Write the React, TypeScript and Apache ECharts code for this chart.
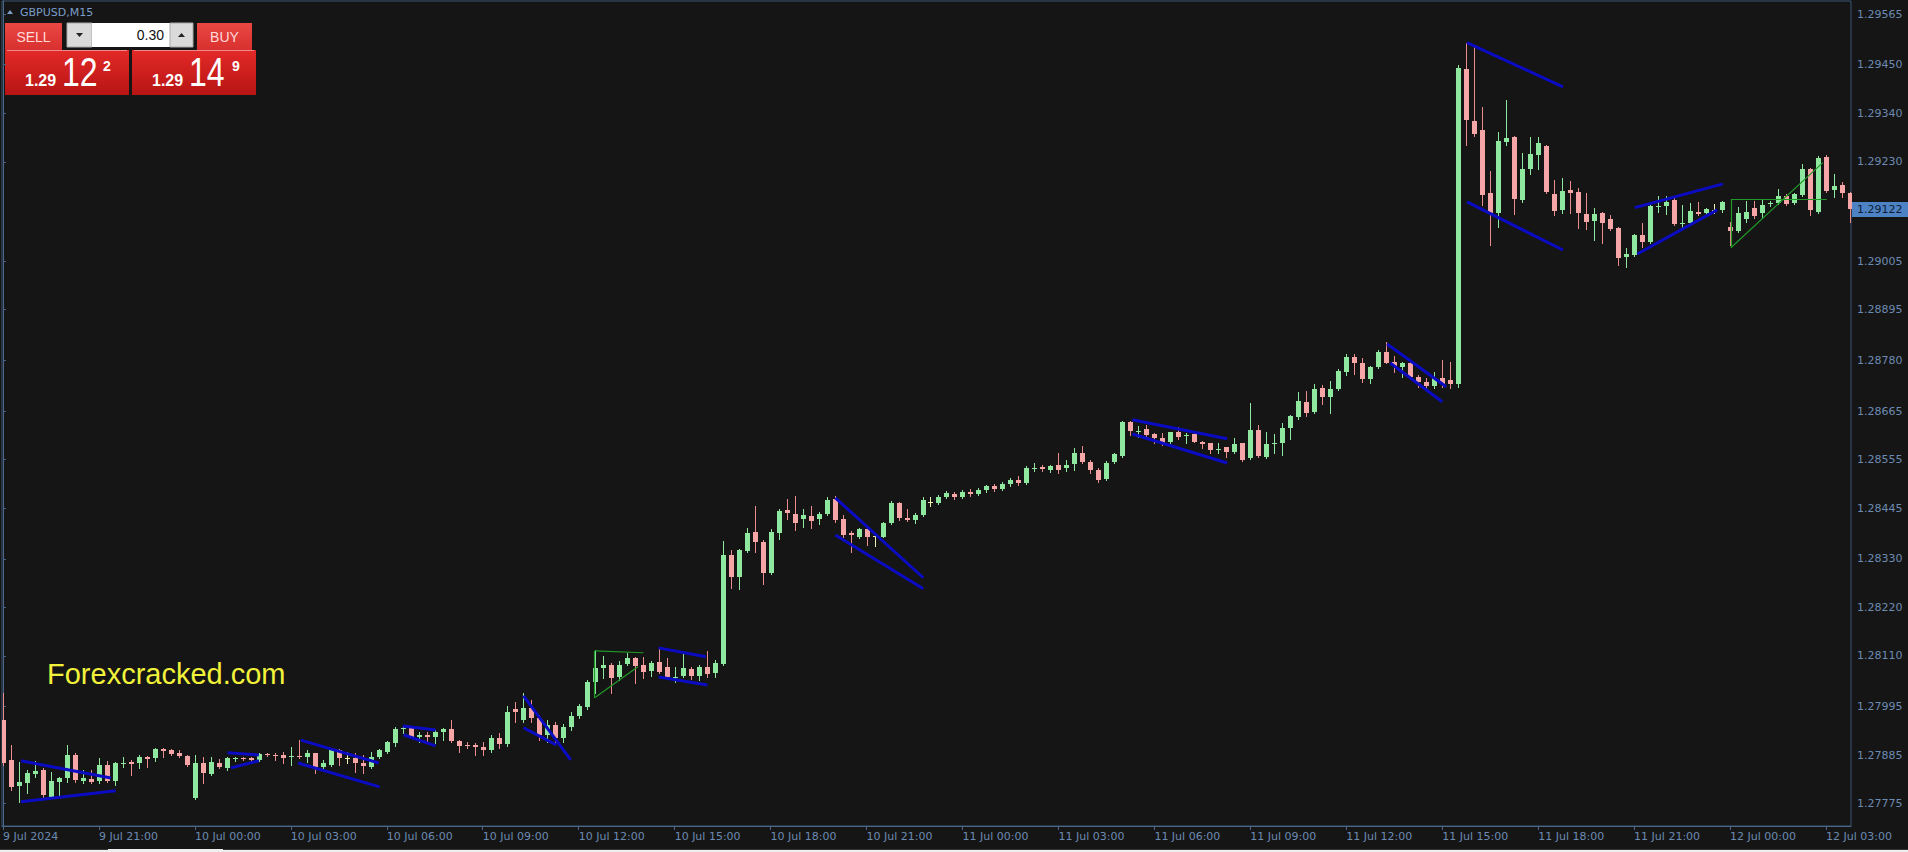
import React, { useEffect, useRef } from "react";
import * as echarts from "echarts";

const TIME_TICKS = [0, 12, 24, 36, 48, 60, 72, 84, 96, 108, 120, 132, 144, 156, 168, 180, 192, 204, 216, 228];
const TIME_LABELS = [
  "9 Jul 2024", "9 Jul 21:00", "10 Jul 00:00", "10 Jul 03:00", "10 Jul 06:00", "10 Jul 09:00",
  "10 Jul 12:00", "10 Jul 15:00", "10 Jul 18:00", "10 Jul 21:00", "11 Jul 00:00", "11 Jul 03:00",
  "11 Jul 06:00", "11 Jul 09:00", "11 Jul 12:00", "11 Jul 15:00", "11 Jul 18:00", "11 Jul 21:00",
  "12 Jul 00:00", "12 Jul 03:00",
];
const PRICE_TICKS = [
  1.29565, 1.2945, 1.2934, 1.2923, 1.29005, 1.28895, 1.2878, 1.28665, 1.28555, 1.28445, 1.2833,
  1.2822, 1.2811, 1.27995, 1.27885, 1.27775,
];
const CURRENT_PRICE = 1.29122;

// [open, high, low, close] per M15 bar
const OHLC: number[][] = [
  [1.27965, 1.28026, 1.27863, 1.27867], [1.27874, 1.27908, 1.27806, 1.27813], [1.27815, 1.2787, 1.27779, 1.27824],
  [1.27822, 1.27851, 1.27799, 1.27845], [1.27842, 1.27872, 1.27836, 1.27849], [1.27851, 1.27856, 1.27786, 1.27795],
  [1.2779, 1.27847, 1.27788, 1.27827], [1.27824, 1.27836, 1.27795, 1.27833], [1.27833, 1.27908, 1.27824, 1.27885],
  [1.27885, 1.2789, 1.27824, 1.27829], [1.27827, 1.27851, 1.27822, 1.27833], [1.27831, 1.27851, 1.27822, 1.27824],
  [1.27827, 1.27879, 1.27822, 1.27863], [1.27863, 1.27872, 1.27824, 1.27827], [1.27827, 1.2787, 1.27817, 1.27867],
  [1.27865, 1.27881, 1.27858, 1.27867], [1.2787, 1.27874, 1.2784, 1.27865], [1.27867, 1.27885, 1.27856, 1.27881],
  [1.27881, 1.27883, 1.27858, 1.27876], [1.27879, 1.27901, 1.27872, 1.27899], [1.27899, 1.27901, 1.27881, 1.27894],
  [1.27897, 1.27899, 1.27885, 1.27888], [1.2789, 1.27897, 1.27881, 1.27883], [1.27883, 1.27885, 1.2786, 1.27863],
  [1.27788, 1.27885, 1.27786, 1.27867], [1.27867, 1.27881, 1.27822, 1.27845], [1.27842, 1.27881, 1.2784, 1.2787],
  [1.27867, 1.27876, 1.27856, 1.27858], [1.27856, 1.27881, 1.27851, 1.27879], [1.27876, 1.27881, 1.27872, 1.27879],
  [1.27879, 1.27881, 1.27874, 1.27876], [1.27879, 1.27881, 1.27872, 1.27874], [1.27874, 1.2789, 1.27872, 1.27888],
  [1.27888, 1.2789, 1.27883, 1.27885], [1.27885, 1.2789, 1.27874, 1.27883], [1.27885, 1.27892, 1.27867, 1.27879],
  [1.27881, 1.27904, 1.27863, 1.27883], [1.27883, 1.27919, 1.27879, 1.27881], [1.27881, 1.27897, 1.2787, 1.2789],
  [1.2789, 1.2789, 1.27845, 1.27858], [1.27858, 1.27874, 1.27856, 1.27867], [1.27863, 1.27899, 1.2786, 1.27897],
  [1.27897, 1.27899, 1.27863, 1.27879], [1.27879, 1.27892, 1.27867, 1.27879], [1.27879, 1.2789, 1.27847, 1.27867],
  [1.27867, 1.27885, 1.27845, 1.2786], [1.27858, 1.27892, 1.27856, 1.27881], [1.27881, 1.27899, 1.27879, 1.27897],
  [1.27892, 1.27917, 1.2789, 1.27915], [1.27913, 1.27949, 1.27906, 1.27944], [1.27944, 1.27953, 1.27935, 1.27947],
  [1.27947, 1.27949, 1.27924, 1.27926], [1.27926, 1.27938, 1.27915, 1.27931], [1.27931, 1.27938, 1.27913, 1.27926],
  [1.27926, 1.27942, 1.27913, 1.27938], [1.27938, 1.27947, 1.27919, 1.27944], [1.27944, 1.27965, 1.27915, 1.27917],
  [1.27917, 1.27919, 1.27892, 1.27906], [1.27908, 1.27915, 1.27901, 1.27906], [1.27908, 1.27913, 1.27885, 1.27904],
  [1.27904, 1.27915, 1.27885, 1.27897], [1.27897, 1.27931, 1.27892, 1.27924], [1.27924, 1.27935, 1.27901, 1.2791],
  [1.2791, 1.27996, 1.27906, 1.27983], [1.2799, 1.28006, 1.2796, 1.27983], [1.27965, 1.28026, 1.2796, 1.27992],
  [1.27992, 1.2801, 1.2796, 1.27969], [1.27969, 1.27976, 1.27919, 1.27931], [1.27931, 1.27965, 1.27915, 1.27953],
  [1.27953, 1.2796, 1.27908, 1.27924], [1.27924, 1.27956, 1.27915, 1.27949], [1.27949, 1.27983, 1.27942, 1.27974],
  [1.27974, 1.28001, 1.27969, 1.27996], [1.27994, 1.28055, 1.2799, 1.28051], [1.28051, 1.28123, 1.28026, 1.28083],
  [1.28083, 1.2811, 1.2806, 1.28089], [1.28089, 1.28094, 1.28026, 1.2806], [1.28062, 1.28099, 1.28055, 1.28089],
  [1.28092, 1.28117, 1.28089, 1.28105], [1.28105, 1.28108, 1.28049, 1.28087], [1.28089, 1.28108, 1.2806, 1.28074],
  [1.28076, 1.28099, 1.28064, 1.28094], [1.28096, 1.28128, 1.28071, 1.28074], [1.28085, 1.28105, 1.2806, 1.28062],
  [1.2806, 1.28085, 1.28051, 1.28062], [1.28064, 1.28119, 1.28062, 1.28083], [1.2808, 1.28085, 1.28058, 1.28064],
  [1.28064, 1.28089, 1.28055, 1.28085], [1.28085, 1.28121, 1.28062, 1.28069], [1.28071, 1.28101, 1.28062, 1.28094],
  [1.28092, 1.28371, 1.28089, 1.28339], [1.28339, 1.2835, 1.28264, 1.28289], [1.28289, 1.28352, 1.28262, 1.2835],
  [1.28348, 1.284, 1.28346, 1.28389], [1.28391, 1.2845, 1.28346, 1.28368], [1.28368, 1.28373, 1.28273, 1.28298],
  [1.28298, 1.28398, 1.28296, 1.28391], [1.28389, 1.28443, 1.28375, 1.28439], [1.28441, 1.28466, 1.2842, 1.28434],
  [1.28432, 1.28473, 1.28396, 1.28411], [1.2842, 1.28443, 1.28402, 1.2843], [1.28427, 1.2845, 1.284, 1.28416],
  [1.2842, 1.28436, 1.28409, 1.28432], [1.28432, 1.2847, 1.2843, 1.28464], [1.28466, 1.28473, 1.28414, 1.28418],
  [1.2842, 1.2843, 1.2838, 1.28384], [1.28389, 1.28393, 1.28346, 1.28384], [1.2838, 1.284, 1.28377, 1.28398],
  [1.28398, 1.28402, 1.28362, 1.2838], [1.28382, 1.28389, 1.28359, 1.28382], [1.2838, 1.28414, 1.2838, 1.28411],
  [1.28411, 1.28461, 1.28409, 1.28457], [1.28457, 1.28459, 1.28418, 1.28423], [1.28423, 1.28443, 1.28416, 1.28418],
  [1.28418, 1.28434, 1.28411, 1.2843], [1.2843, 1.2847, 1.28427, 1.28464], [1.28459, 1.2847, 1.2845, 1.28459],
  [1.28457, 1.28475, 1.28454, 1.2847], [1.2847, 1.28484, 1.28468, 1.28479], [1.28477, 1.28482, 1.28466, 1.2847],
  [1.2847, 1.28486, 1.28468, 1.28482], [1.28482, 1.28488, 1.28473, 1.28477], [1.28477, 1.28491, 1.28475, 1.28486],
  [1.28486, 1.28497, 1.28482, 1.28495], [1.28495, 1.285, 1.28484, 1.28488], [1.28488, 1.28504, 1.28486, 1.285],
  [1.285, 1.28513, 1.28495, 1.28509], [1.28509, 1.28518, 1.28497, 1.28502], [1.28502, 1.28541, 1.285, 1.28536],
  [1.28534, 1.28547, 1.28529, 1.28536], [1.28538, 1.28543, 1.28529, 1.28534], [1.28532, 1.28543, 1.28527, 1.28541],
  [1.28543, 1.2857, 1.28525, 1.28532], [1.28536, 1.28554, 1.28529, 1.28543], [1.28545, 1.28581, 1.28532, 1.2857],
  [1.2857, 1.28586, 1.28547, 1.2855], [1.2855, 1.28554, 1.28525, 1.28532], [1.28532, 1.28536, 1.28504, 1.28509],
  [1.28511, 1.28552, 1.28509, 1.28547], [1.2855, 1.2857, 1.28547, 1.28568], [1.28563, 1.28643, 1.28561, 1.2864],
  [1.2864, 1.28643, 1.28611, 1.2862], [1.28618, 1.28631, 1.28606, 1.2862], [1.28625, 1.28634, 1.28606, 1.28611],
  [1.28613, 1.28615, 1.28593, 1.28604], [1.28604, 1.28615, 1.28588, 1.28593], [1.28595, 1.28618, 1.28593, 1.28618],
  [1.28618, 1.28629, 1.28602, 1.28606], [1.28609, 1.28615, 1.28593, 1.28611], [1.28613, 1.28615, 1.28595, 1.28595],
  [1.28595, 1.28597, 1.28581, 1.2859], [1.28593, 1.28593, 1.2857, 1.28577], [1.28577, 1.28593, 1.2857, 1.28579],
  [1.28584, 1.28584, 1.28561, 1.28572], [1.28572, 1.28604, 1.2857, 1.2859], [1.28593, 1.28593, 1.28552, 1.28554],
  [1.28559, 1.28683, 1.28556, 1.28622], [1.28622, 1.28634, 1.28561, 1.28563], [1.28561, 1.28618, 1.28559, 1.2859],
  [1.28591, 1.28613, 1.2857, 1.28593], [1.28593, 1.28638, 1.28566, 1.28627], [1.28627, 1.28656, 1.28602, 1.28654],
  [1.28652, 1.28708, 1.28647, 1.28688], [1.28686, 1.28711, 1.28654, 1.28661], [1.28663, 1.28727, 1.28661, 1.28715],
  [1.28717, 1.28724, 1.28681, 1.28697], [1.28697, 1.28733, 1.28661, 1.28715], [1.28715, 1.2876, 1.28713, 1.28756],
  [1.28754, 1.28795, 1.28747, 1.28788], [1.28788, 1.28795, 1.28749, 1.28774], [1.28774, 1.28785, 1.28731, 1.28738],
  [1.28738, 1.28767, 1.28729, 1.28765], [1.28765, 1.28804, 1.28763, 1.28799], [1.28799, 1.28822, 1.28774, 1.28774],
  [1.28776, 1.2879, 1.28754, 1.28767], [1.28765, 1.28776, 1.28742, 1.28774], [1.28774, 1.28776, 1.28742, 1.28742],
  [1.28742, 1.28747, 1.2872, 1.28731], [1.28731, 1.2874, 1.28713, 1.28722], [1.28722, 1.28754, 1.28717, 1.2874],
  [1.2874, 1.28781, 1.2872, 1.28727], [1.28736, 1.28776, 1.28717, 1.28727], [1.28727, 1.2945, 1.2872, 1.29443],
  [1.29441, 1.295, 1.29268, 1.29325], [1.29323, 1.29495, 1.29289, 1.29293], [1.29302, 1.29354, 1.29132, 1.29155],
  [1.2916, 1.29209, 1.29042, 1.29114], [1.29114, 1.29298, 1.29082, 1.29277], [1.29275, 1.2937, 1.29268, 1.29284],
  [1.29286, 1.29289, 1.29112, 1.29146], [1.29144, 1.2925, 1.29139, 1.29214], [1.29214, 1.29286, 1.29203, 1.29248],
  [1.29246, 1.29286, 1.29214, 1.29273], [1.29266, 1.29268, 1.2916, 1.29162], [1.29157, 1.29189, 1.2911, 1.29119],
  [1.29121, 1.29194, 1.29114, 1.29164], [1.29166, 1.29187, 1.29114, 1.2916], [1.29162, 1.29171, 1.2908, 1.29114],
  [1.29112, 1.2916, 1.29078, 1.29094], [1.29096, 1.29126, 1.29053, 1.29112], [1.29114, 1.29116, 1.29046, 1.29091],
  [1.291, 1.2911, 1.29076, 1.29078], [1.2908, 1.29082, 1.28996, 1.29012], [1.29014, 1.29035, 1.28992, 1.29021],
  [1.29019, 1.29067, 1.29017, 1.29064], [1.29064, 1.29091, 1.29037, 1.29048], [1.29048, 1.29135, 1.29046, 1.2913],
  [1.29128, 1.29153, 1.29116, 1.2913], [1.2913, 1.29153, 1.29112, 1.29139], [1.29144, 1.29148, 1.29087, 1.29089],
  [1.29089, 1.29132, 1.29082, 1.29091], [1.29091, 1.29137, 1.29089, 1.29119], [1.29116, 1.29139, 1.2911, 1.29112],
  [1.29114, 1.29126, 1.29112, 1.29123], [1.29121, 1.29135, 1.29114, 1.29121], [1.29121, 1.29141, 1.29116, 1.29139],
  [1.29082, 1.29094, 1.29042, 1.29073], [1.29073, 1.29128, 1.29071, 1.29114], [1.291, 1.29141, 1.29094, 1.29116],
  [1.29126, 1.29141, 1.29103, 1.29107], [1.29114, 1.29144, 1.29103, 1.29132], [1.29135, 1.29141, 1.2913, 1.29137],
  [1.29137, 1.29169, 1.29135, 1.29153], [1.29153, 1.29157, 1.29132, 1.29135], [1.29137, 1.2916, 1.29135, 1.29157],
  [1.29155, 1.29225, 1.29153, 1.29214], [1.29214, 1.29216, 1.2911, 1.29121], [1.29116, 1.29243, 1.29114, 1.29239],
  [1.29241, 1.29246, 1.29162, 1.29164], [1.29166, 1.29203, 1.2915, 1.29175], [1.29178, 1.29184, 1.2915, 1.2916],
  [1.2916, 1.29162, 1.29094, 1.29122],
];

// trend lines: [barFrom, priceFrom, barTo, priceTo]
const BLUE_LINES: number[][] = [
  [2.25, 1.27872, 13.5, 1.27833], [2.25, 1.27779, 14.1, 1.27804],
  [28.1, 1.2789, 32, 1.27885], [28.5, 1.27856, 32, 1.27872],
  [37.25, 1.27919, 47, 1.27867], [36.9, 1.27867, 47.1, 1.27813],
  [50, 1.27951, 54.1, 1.27942], [50.1, 1.27931, 54.1, 1.27906],
  [65.1, 1.28019, 71, 1.27874], [65.1, 1.27947, 69.2, 1.27908],
  [82, 1.28128, 87.9, 1.28108], [82, 1.28062, 88.1, 1.28044],
  [104.1, 1.28468, 115.1, 1.28287], [104.1, 1.28384, 115.1, 1.28262],
  [141.25, 1.28645, 153.1, 1.28602], [141.25, 1.28613, 153.1, 1.28547],
  [173.1, 1.28817, 180.5, 1.2872], [173.5, 1.28774, 180, 1.28686],
  [183.1, 1.295, 195.1, 1.294], [183.1, 1.29139, 195.1, 1.2903],
  [204.1, 1.29126, 215.1, 1.2918], [204.4, 1.29021, 214.4, 1.29121],
];
const GREEN_LINES: number[][] = [
  [74, 1.28121, 80.1, 1.28117], [74, 1.28121, 74, 1.28015], [74, 1.28015, 79.4, 1.28085],
  [216.1, 1.29144, 228.1, 1.29144], [216.1, 1.29144, 216.1, 1.29035], [216.1, 1.29035, 227.6, 1.29228],
];

const BULL = "#8fe8a0";
const BEAR = "#f6a6a6";
const BEAR_WICK = "#ec8c8c";
const DOJI = "#f2eeb0";
const AXIS = "#4a6788";
const AXIS_TEXT = "#6c8bb2";

export default function App() {
  const ref = useRef<HTMLDivElement>(null);
  useEffect(() => {
    const chart = echarts.init(ref.current!, null, { renderer: "svg" });
    const grad = (a: string, b: string) =>
      new echarts.graphic.LinearGradient(0, 0, 0, 1, [
        { offset: 0, color: a },
        { offset: 1, color: b },
      ]);
    const txt = (x: number, y: number, text: string, font: string, fill: string, align = "left", extra: any = {}) => ({
      type: "text",
      x,
      y,
      ...extra,
      style: { text, font, fill, textAlign: align, align, textVerticalAlign: "middle", verticalAlign: "middle" },
    });
    const option: any = {
      animation: false,
      backgroundColor: "#151515",
      grid: { left: 1, right: 57, top: 1, bottom: 26, show: true, borderColor: "#3b5676", borderWidth: 1 },
      xAxis: {
        type: "value",
        min: -0.125,
        max: 231.125,
        axisLine: { show: true, lineStyle: { color: AXIS } },
        axisTick: { show: true, customValues: TIME_TICKS, length: 4, lineStyle: { color: AXIS } },
        axisLabel: {
          customValues: TIME_TICKS,
          formatter: (v: number) => TIME_LABELS[TIME_TICKS.indexOf(Math.round(v))] ?? "",
          align: "left",
          color: AXIS_TEXT,
          fontFamily: "DejaVu Sans",
          fontSize: 11,
          margin: 5,
          showMinLabel: true,
          showMaxLabel: true,
        },
        splitLine: { show: false },
      },
      yAxis: {
        type: "value",
        position: "right",
        min: 1.277242,
        max: 1.295945,
        axisLine: { show: true, lineStyle: { color: AXIS } },
        axisTick: { show: true, customValues: PRICE_TICKS, length: 3, lineStyle: { color: AXIS } },
        axisLabel: {
          customValues: PRICE_TICKS,
          formatter: (v: number) => v.toFixed(5),
          color: AXIS_TEXT,
          fontFamily: "DejaVu Sans",
          fontSize: 11,
          margin: 6,
        },
        splitLine: { show: false },
      },
      series: [
        {
          type: "custom",
          clip: true,
          data: OHLC.map((d, i) => [i, d[0], d[1], d[2], d[3]]),
          encode: { x: 0, y: [1, 2, 3, 4] },
          renderItem: (_p: any, api: any) => {
            const i = api.value(0);
            const o = api.value(1);
            const h = api.value(2);
            const l = api.value(3);
            const c = api.value(4);
            const pO = api.coord([i, o]);
            const pC = api.coord([i, c]);
            const pH = api.coord([i, h]);
            const pL = api.coord([i, l]);
            const x = Math.round(pO[0]);
            const bull = c > o;
            const bear = c < o;
            const fill = bull ? BULL : bear ? BEAR : DOJI;
            const wick = bull ? BULL : bear ? BEAR_WICK : DOJI;
            const top = Math.round(Math.min(pO[1], pC[1]));
            const bot = Math.round(Math.max(pO[1], pC[1]));
            return {
              type: "group",
              children: [
                {
                  type: "line",
                  shape: { x1: x + 0.5, y1: Math.round(pH[1]), x2: x + 0.5, y2: Math.round(pL[1]) + 1 },
                  style: { stroke: wick, lineWidth: 1 },
                },
                {
                  type: "rect",
                  shape: { x: x - 2, y: top, width: 5, height: Math.max(1, bot - top) },
                  style: { fill },
                },
              ],
            };
          },
        },
        {
          type: "lines",
          coordinateSystem: "cartesian2d",
          silent: true,
          z: 5,
          lineStyle: { color: "#0b0bc4", width: 3, opacity: 1 },
          data: BLUE_LINES.map((s) => ({ coords: [[s[0], s[1]], [s[2], s[3]]] })),
        },
        {
          type: "lines",
          coordinateSystem: "cartesian2d",
          silent: true,
          z: 5,
          lineStyle: { color: "#1f9a26", width: 1.2, opacity: 1 },
          data: GREEN_LINES.map((s) => ({ coords: [[s[0], s[1]], [s[2], s[3]]] })),
        },
        {
          type: "line",
          clip: false,
          silent: true,
          showSymbol: false,
          z: 6,
          lineStyle: { color: "transparent", width: 0 },
          data: [[230, CURRENT_PRICE]],
          markLine: {
            silent: true,
            precision: 5,
            symbol: ["none", "none"],
            data: [{ yAxis: CURRENT_PRICE }],
            lineStyle: { color: "transparent", width: 1, type: "solid" },
            label: {
              show: true,
              position: "end",
              distance: 1,
              formatter: () => CURRENT_PRICE.toFixed(5),
              backgroundColor: "#4d82c4",
              color: "#0e1d33",
              fontFamily: "DejaVu Sans",
              fontSize: 11,
              padding: [2, 6, 2, 5],
            },
          },
        },
      ],
      graphic: [
        { type: "polygon", shape: { points: [[7, 14], [13, 14], [10, 10]] }, style: { fill: "#7b9dc7" } },
        txt(20, 12, "GBPUSD,M15", "11px DejaVu Sans", "#7b9dc7"),
        { type: "rect", shape: { x: 5, y: 23, width: 57, height: 27 }, style: { fill: grad("#ea4844", "#d8302e") } },
        { type: "rect", shape: { x: 197, y: 23, width: 55, height: 27 }, style: { fill: grad("#ea4844", "#d8302e") } },
        txt(33.5, 37, "SELL", "14px Liberation Sans", "#ffdada", "center"),
        txt(224.5, 37, "BUY", "14px Liberation Sans", "#ffdada", "center"),
        { type: "rect", shape: { x: 67, y: 23, width: 25, height: 24 }, style: { fill: "#dadada", stroke: "#a8a8a8", lineWidth: 1 } },
        { type: "rect", shape: { x: 92, y: 23, width: 78, height: 24 }, style: { fill: "#ffffff" } },
        { type: "rect", shape: { x: 170, y: 23, width: 23, height: 24 }, style: { fill: "#dadada", stroke: "#a8a8a8", lineWidth: 1 } },
        { type: "polygon", shape: { points: [[76, 33], [83, 33], [79.5, 37]] }, style: { fill: "#222" } },
        { type: "polygon", shape: { points: [[178, 37], [185, 37], [181.5, 33]] }, style: { fill: "#222" } },
        txt(164, 35, "0.30", "14px Liberation Sans", "#111", "right"),
        { type: "rect", shape: { x: 5, y: 50, width: 124, height: 45 }, style: { fill: grad("#e32a28", "#b71414") } },
        { type: "rect", shape: { x: 132, y: 50, width: 124, height: 45 }, style: { fill: grad("#e32a28", "#b71414") } },
        { type: "line", shape: { x1: 7, y1: 50.5, x2: 127, y2: 50.5 }, style: { stroke: "#f08a8a", lineWidth: 1 } },
        { type: "line", shape: { x1: 134, y1: 50.5, x2: 254, y2: 50.5 }, style: { stroke: "#f08a8a", lineWidth: 1 } },
        txt(25, 80, "1.29", "bold 16px Liberation Sans", "#ffffff"),
        txt(62, 72, "12", "40px Liberation Sans", "#ffffff", "left", { scaleX: 0.8 }),
        txt(103, 66, "2", "bold 14px Liberation Sans", "#ffffff"),
        txt(152, 80, "1.29", "bold 16px Liberation Sans", "#ffffff"),
        txt(189, 72, "14", "40px Liberation Sans", "#ffffff", "left", { scaleX: 0.8 }),
        txt(232, 66, "9", "bold 14px Liberation Sans", "#ffffff"),
        txt(47, 674, "Forexcracked.com", "29px Liberation Sans", "#f2f23a"),
        { type: "rect", shape: { x: 0, y: 849, width: 1908, height: 3 }, style: { fill: "#efefef" } },
        { type: "line", shape: { x1: 0, y1: 849.5, x2: 108, y2: 849.5 }, style: { stroke: "#333", lineWidth: 1 } },
        { type: "line", shape: { x1: 223, y1: 849.5, x2: 1908, y2: 849.5 }, style: { stroke: "#333", lineWidth: 1 } },
      ],
    };
    chart.setOption(option);
    return () => chart.dispose();
  }, []);
  return <div ref={ref} style={{ position: "absolute", left: 0, top: 0, width: 1908, height: 852 }} />;
}
